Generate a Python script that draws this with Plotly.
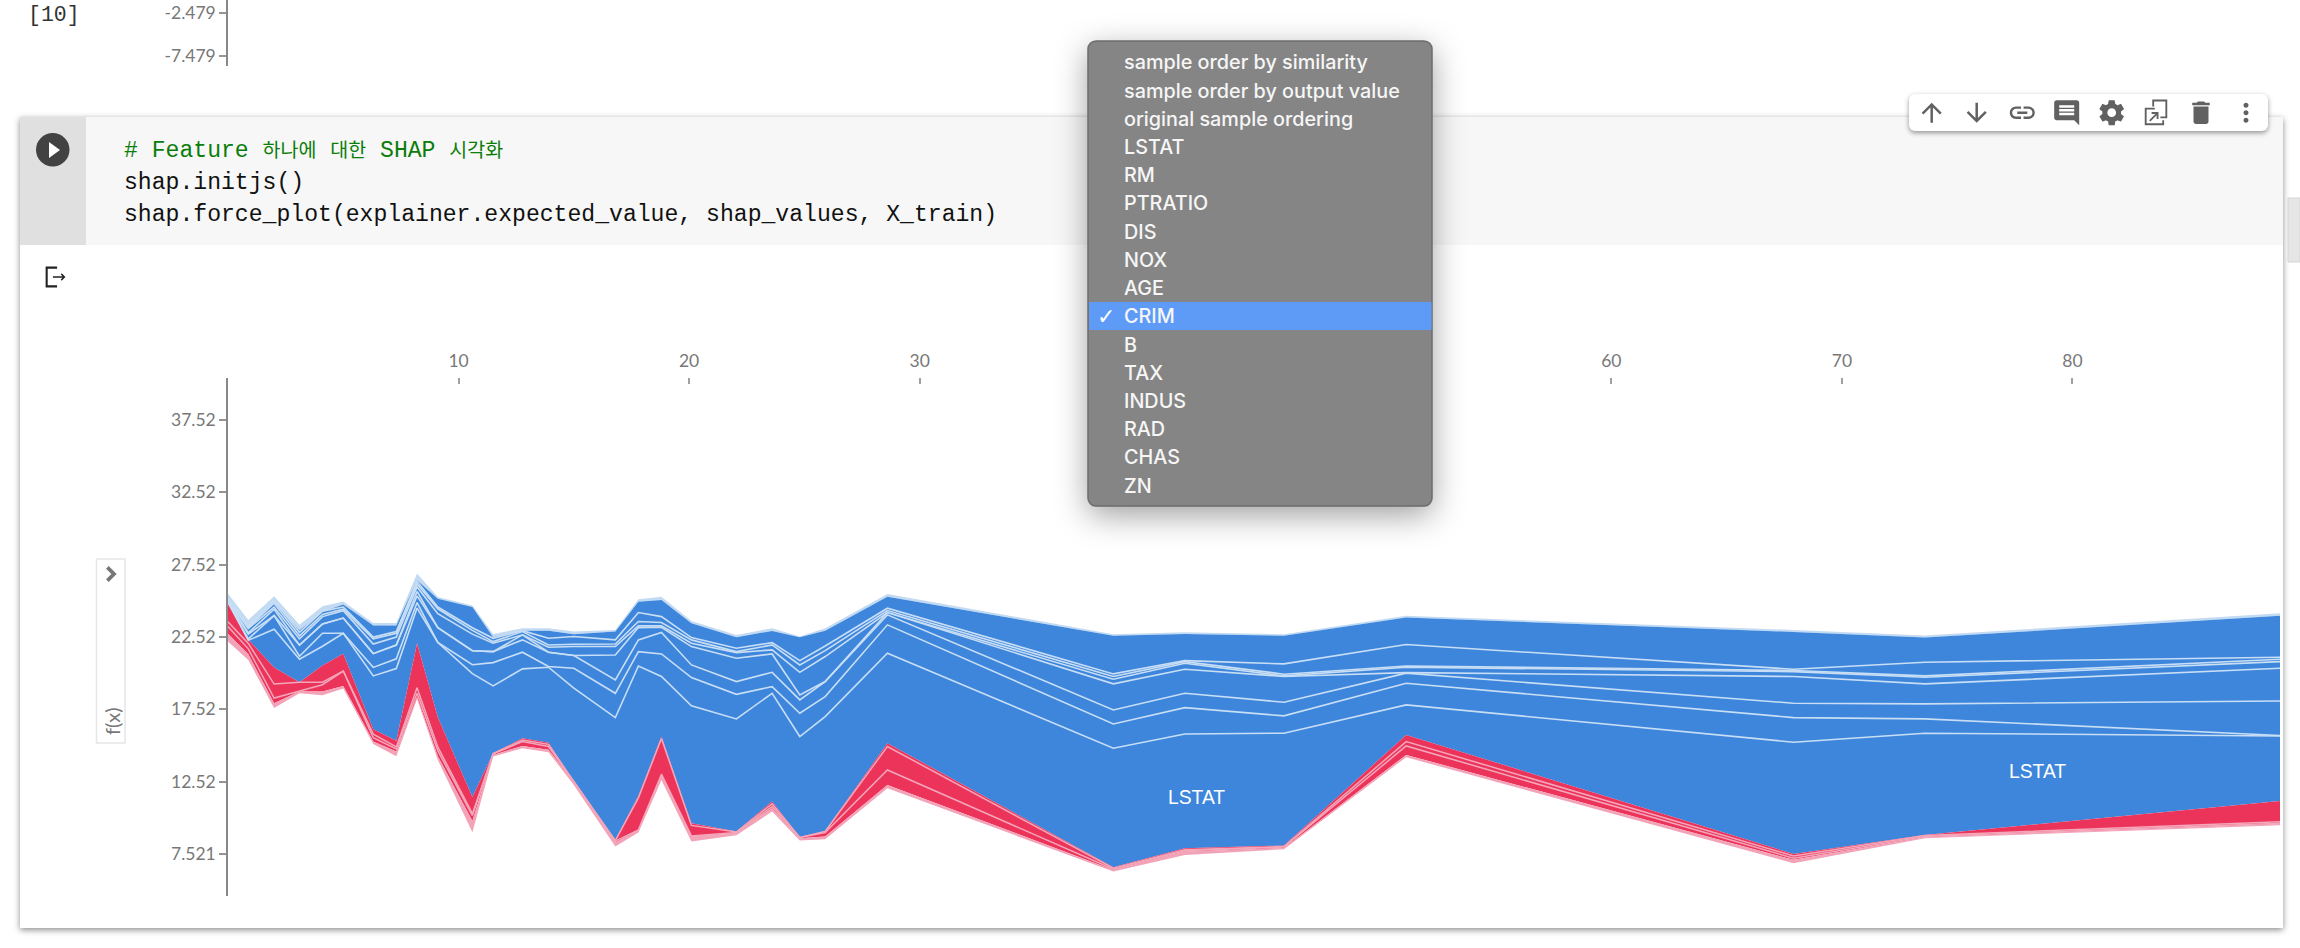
import base64
import plotly.graph_objects as go

W, H = 2300, 948

# sample positions along the top axis
sample_x = [0, 0.88, 2, 3.1, 4.1, 5, 6.3, 7.3, 8.2, 9.1, 10.6,
            11.5, 12.77, 13.9, 15, 16.8, 17.8, 18.8, 20.1, 22.05, 23.6, 24.8, 25.9, 28.6,
            38.4, 41.5, 45.8, 51.1, 67.9, 73.6, 89]

# edges of the stack, top to bottom
fringe_top = [25.51, 23.70, 25.34, 23.36, 24.64, 24.98, 23.49, 23.49, 26.90, 25.28, 24.70,
              22.73, 23.13, 23.13, 22.90, 23.01, 25.13, 25.31, 23.63, 22.66, 23.13, 22.55, 23.13, 25.50,
              22.71, 22.85, 22.71, 23.98, 23.01, 22.62, 24.16]
blue_top = [25.16, 23.24, 24.90, 22.98, 24.26, 24.77, 23.31, 23.31, 26.44, 25.16, 24.59,
            22.50, 22.96, 22.96, 22.71, 22.90, 24.95, 25.08, 23.47, 22.50, 22.94, 22.50, 22.96, 25.31,
            22.60, 22.73, 22.60, 23.86, 22.87, 22.48, 23.98]
red_top = [25.03, 22.34, 20.42, 19.40, 20.55, 21.37, 16.15, 15.35, 22.08, 16.97, 11.46,
           14.49, 15.52, 15.22, 12.53, 8.50, 11.54, 15.64, 9.65, 9.07, 11.15, 8.68, 9.12, 15.18,
           6.61, 7.92, 8.11, 15.75, 7.53, 8.84, 11.19]
red_bottom = [22.72, 21.32, 17.94, 18.76, 18.76, 19.14, 15.30, 14.61, 18.37, 14.28, 9.80,
              14.37, 14.99, 14.72, 12.53, 8.31, 9.14, 12.99, 8.73, 8.96, 10.69, 8.61, 8.73, 12.30,
              6.42, 7.69, 7.94, 14.37, 7.12, 8.68, 9.60]
pink_bottom = [22.21, 20.93, 17.61, 18.63, 18.50, 18.96, 15.12, 14.28, 18.24, 14.02, 9.03,
               14.26, 14.83, 14.56, 12.30, 8.04, 9.00, 12.64, 8.38, 8.82, 10.46, 8.45, 8.54, 12.07,
               6.31, 7.46, 7.85, 14.21, 6.89, 8.61, 9.51]

# separators between features inside the blue part
blue_line_1 = [25.16, 23.24, 25.03, 22.85, 24.31, 24.59, 22.52, 22.90, 26.36, 24.59, 23.16,
               22.43, 22.96, 22.43, 22.55, 22.32, 24.21, 23.93, 22.48, 21.74, 22.13, 20.89, 21.90, 24.51,
               19.97, 20.89, 20.66, 22.00, 20.29, 20.78, 21.12]
blue_line_2 = [25.16, 23.16, 24.85, 22.60, 24.08, 24.44, 22.39, 22.78, 26.18, 24.47, 22.98,
               22.20, 22.90, 21.97, 22.02, 22.04, 23.59, 23.52, 22.32, 21.51, 21.97, 20.59, 21.58, 24.35,
               19.79, 20.82, 19.95, 20.52, 20.20, 19.83, 20.98]
blue_line_3 = [25.10, 23.11, 24.59, 22.39, 23.93, 24.34, 22.03, 22.52, 25.98, 24.13, 22.72,
               22.09, 22.67, 21.81, 21.86, 21.86, 23.29, 23.29, 22.09, 21.44, 21.63, 20.08, 21.17, 24.21,
               19.60, 20.71, 19.83, 20.43, 20.13, 19.74, 20.82]
blue_line_4 = [25.05, 22.80, 24.44, 21.96, 23.42, 23.83, 21.37, 21.96, 25.67, 23.16, 21.57,
               21.51, 22.67, 21.47, 21.24, 21.28, 23.17, 23.19, 21.86, 21.05, 21.35, 18.52, 19.44, 24.21,
               19.28, 20.29, 19.79, 20.06, 19.79, 19.28, 20.36]
blue_line_5 = [25.00, 22.72, 24.00, 21.96, 23.42, 23.83, 21.37, 21.96, 25.36, 23.16, 21.57,
               21.51, 22.32, 21.47, 21.24, 19.55, 22.32, 22.83, 20.59, 19.44, 20.08, 18.17, 19.44, 24.05,
               17.48, 18.63, 18.01, 20.02, 17.94, 17.90, 18.10]
blue_line_6 = [24.95, 22.39, 24.00, 21.19, 22.78, 22.78, 20.42, 21.01, 24.90, 22.14, 20.60,
               20.75, 21.47, 20.48, 20.36, 18.63, 21.51, 21.35, 19.72, 18.56, 19.09, 17.25, 18.40, 23.36,
               16.51, 17.64, 17.07, 19.32, 16.95, 16.86, 15.71]
blue_line_7 = [24.90, 22.29, 23.06, 20.98, 21.88, 22.78, 19.83, 20.34, 24.52, 22.14, 19.99,
               19.14, 20.32, 20.43, 18.98, 16.95, 20.52, 19.79, 17.76, 16.86, 18.63, 15.64, 17.02, 21.40,
               14.83, 15.82, 15.87, 17.83, 15.25, 15.87, 15.68]

# separators inside the red part
red_line_1 = [23.57, 22.08, 19.27, 19.40, 19.40, 20.17, 15.81, 14.92, 19.01, 14.92, 10.31,
              14.46, 15.40, 15.10, 12.53, 8.45, 11.40, 15.50, 9.50, 9.04, 11.00, 8.67, 9.08, 14.95,
              6.54, 7.81, 8.04, 15.29, 7.39, 8.80, 9.76]
red_line_2 = [23.24, 21.70, 18.30, 18.76, 19.22, 20.17, 15.56, 14.79, 18.63, 14.66, 10.18,
              14.44, 15.29, 14.95, 12.53, 8.41, 9.19, 13.04, 8.77, 9.00, 10.80, 8.66, 9.00, 13.33,
              6.47, 7.74, 8.00, 14.99, 7.23, 8.73, 9.65]

# 40 and 50 sit behind the open menu in the screenshot
x_ticks = [10, 20, 30, 60, 70, 80]
y_ticks = [7.521, 12.52, 17.52, 22.52, 27.52, 32.52, 37.52]
y_tick_labels = ["7.521", "12.52", "17.52", "22.52", "27.52", "32.52", "37.52"]
prev_ticks = [-2.479, -7.479]
prev_tick_labels = ["-2.479", "-7.479"]

menu_items = ["sample order by similarity", "sample order by output value", "original sample ordering",
              "LSTAT", "RM", "PTRATIO", "DIS", "NOX", "AGE", "CRIM", "B", "TAX", "INDUS", "RAD", "CHAS", "ZN"]
selected_item = "CRIM"

ko = '<span style="font-size:19.5px">{}</span>'
code_lines = [("# Feature " + ko.format("하나에") + " " + ko.format("대한") + " SHAP " + ko.format("시각화"), "#0a7d0a"),
              ("shap.initjs()", "#111111"),
              ("shap.force_plot(explainer.expected_value, shap_values, X_train)", "#111111")]

# material icon paths for the cell toolbar
toolbar_icons = [
    "M4 12l1.41 1.41L11 7.83V20h2V7.83l5.58 5.59L20 12l-8-8-8 8z",
    "M20 12l-1.41-1.41L13 16.17V4h-2v12.17l-5.58-5.59L4 12l8 8 8-8z",
    "M3.9 12c0-1.71 1.39-3.1 3.1-3.1h4V7H7c-2.76 0-5 2.24-5 5s2.24 5 5 5h4v-1.9H7c-1.71 0-3.1-1.39-3.1-3.1zM8 13h8v-2H8v2zm9-6h-4v1.9h4c1.71 0 3.1 1.39 3.1 3.1s-1.39 3.1-3.1 3.1h-4V17h4c2.76 0 5-2.24 5-5s-2.24-5-5-5z",
    "M21.99 4c0-1.1-.89-2-1.99-2H4c-1.1 0-2 .9-2 2v12c0 1.1.9 2 2 2h14l4 4-.01-18zM18 14H6v-2h12v2zm0-3H6V9h12v2zm0-3H6V6h12v2z",
    "M19.43 12.98c.04-.32.07-.64.07-.98s-.03-.66-.07-.98l2.11-1.65c.19-.15.24-.42.12-.64l-2-3.46c-.12-.22-.39-.3-.61-.22l-2.49 1c-.52-.4-1.08-.73-1.69-.98l-.38-2.65C14.46 2.18 14.25 2 14 2h-4c-.25 0-.46.18-.49.42l-.38 2.65c-.61.25-1.17.59-1.69.98l-2.49-1c-.23-.09-.49 0-.61.22l-2 3.46c-.13.22-.07.49.12.64l2.11 1.65c-.04.32-.07.65-.07.98s.03.66.07.98l-2.11 1.65c-.19.15-.24.42-.12.64l2 3.46c.12.22.39.3.61.22l2.49-1c.52.4 1.08.73 1.69.98l.38 2.65c.03.24.24.42.49.42h4c.25 0 .46-.18.49-.42l.38-2.65c.61-.25 1.17-.59 1.69-.98l2.49 1c.23.09.49 0 .61-.22l2-3.46c.12-.22.07-.49-.12-.64l-2.11-1.65zM12 15.5c-1.93 0-3.5-1.57-3.5-3.5s1.57-3.5 3.5-3.5 3.5 1.57 3.5 3.5-1.57 3.5-3.5 3.5z",
    "M9 1.5h12v15h-5.5V15H19.5V3H10.5V7H9zM3 8h8v1.5H4.5v11H17V18h1.5v4H3zM6.5 18l5-5H8.5v-1.5H14V17h-1.5v-3l-5 5z",
    "M6 19c0 1.1.9 2 2 2h8c1.1 0 2-.9 2-2V7H6v12zM19 4h-3.5l-1-1h-5l-1 1H5v2h14V4z",
    "M12 8c1.1 0 2-.9 2-2s-.9-2-2-2-2 .9-2 2 .9 2 2 2zm0 2c-1.1 0-2 .9-2 2s.9 2 2 2 2-.9 2-2-.9-2-2-2zm0 6c-1.1 0-2 .9-2 2s.9 2 2 2 2-.9 2-2-.9-2-2-2z",
]
toolbar_centers = [1931.7, 1976.7, 2022.3, 2066.7, 2111.7, 2156, 2201, 2246]


def fx(x):
    return x / W


def fy(y):
    return 1 - y / H


def svg_uri(body, w, h):
    svg = f'<svg xmlns="http://www.w3.org/2000/svg" width="{w}" height="{h}" viewBox="0 0 {w} {h}">{body}</svg>'
    return "data:image/svg+xml;base64," + base64.b64encode(svg.encode()).decode()


def icon(path, cx, cy, size, color="#616161"):
    return dict(source=svg_uri(path.replace("FILL", color), 24, 24).replace("", ""),
                xref="paper", yref="paper", x=fx(cx), y=fy(cy), sizex=size / W, sizey=size / H,
                xanchor="center", yanchor="middle", layer="above", sizing="contain")


def shadow_box(x0, y0, x1, y1, r, blur, dy, alpha, fill, layer, stroke=None):
    pad = int(blur * 4 + abs(dy))
    w, h = x1 - x0 + 2 * pad, y1 - y0 + 2 * pad
    edge_attr = f'stroke="{stroke}" stroke-width="1.5"' if stroke else ""
    body = (f'<defs><filter id="b" x="-50%" y="-50%" width="200%" height="200%"><feGaussianBlur stdDeviation="{blur}"/></filter></defs>'
            f'<rect x="{pad}" y="{pad + dy}" width="{x1 - x0}" height="{y1 - y0}" rx="{r}" fill="#000" fill-opacity="{alpha}" filter="url(#b)"/>'
            f'<rect x="{pad}" y="{pad}" width="{x1 - x0}" height="{y1 - y0}" rx="{r}" fill="{fill}" {edge_attr}/>')
    return dict(source=svg_uri(body, w, h), xref="paper", yref="paper", x=fx(x0 - pad), y=fy(y0 - pad),
                sizex=w / W, sizey=h / H, xanchor="left", yanchor="top", layer=layer, sizing="stretch")


def rect(x0, y0, x1, y1, fill, line=None, layer="below", width=1):
    return dict(type="rect", xref="paper", yref="paper", x0=fx(x0), y0=fy(y0), x1=fx(x1), y1=fy(y1),
                fillcolor=fill, line=dict(color=line or fill, width=width if line else 0), layer=layer)


def text(x, y, s, size, color, family, xanchor="left", angle=0, weight=None):
    font = dict(size=size, color=color, family=family)
    if weight:
        font["weight"] = weight
    return dict(xref="paper", yref="paper", x=fx(x), y=fy(y), text=s, showarrow=False, xanchor=xanchor,
                yanchor="middle", textangle=angle, font=font)


fig = go.Figure()


def edge(y, fill=None):
    fig.add_trace(go.Scatter(x=sample_x, y=y, mode="lines", line=dict(width=0),
                             fill="tonexty" if fill else None, fillcolor=fill, hoverinfo="skip"))


edge(fringe_top)
edge(blue_top, "#c3daf3")
edge(red_top, "#3d86dc")
edge(red_bottom, "#ec345b")
edge(pink_bottom, "#f3a3b8")

for y in [blue_line_1, blue_line_2, blue_line_3, blue_line_4, blue_line_5, blue_line_6, blue_line_7]:
    fig.add_trace(go.Scatter(x=sample_x, y=y, mode="lines", line=dict(color="#c8def5", width=1.6), hoverinfo="skip"))
for y in [red_line_1, red_line_2]:
    fig.add_trace(go.Scatter(x=sample_x, y=y, mode="lines", line=dict(color="#f4a6ba", width=1.5), hoverinfo="skip"))

# the axis left over from the previous cell needs a trace to get drawn
fig.add_trace(go.Scatter(x=[0, 0], y=prev_ticks, mode="none", xaxis="x2", yaxis="y2", hoverinfo="skip"))

axis_font = dict(family="Lato", size=17.5, color="#787878")
mono = '"Liberation Mono","Noto Sans CJK KR",monospace'
ui = '"Inter","Roboto",sans-serif'

images = [shadow_box(20, 117, 2283, 928, 0, 3, 2, 0.45, "#ffffff", "below"),
          shadow_box(1909, 94, 2268, 131, 6, 2.5, 2, 0.4, "#ffffff", "above")]
for path, cx in zip(toolbar_icons, toolbar_centers):
    images.append(icon(f'<path fill="FILL" d="{path}"/>', cx, 112.7, 30))
images.append(icon('<path d="M14 3H4v18h10" fill="none" stroke="FILL" stroke-width="2"/>'
                   '<path d="M10 12h11M18 9l3 3-3 3" fill="none" stroke="FILL" stroke-width="1.4"/>',
                   55, 277, 25, "#222222"))
images.append(icon('<path fill="FILL" stroke="FILL" stroke-width="1.2" d="M8.6 16.6 13.2 12 8.6 7.4 10 6l6 6-6 6z"/>',
                   111, 574, 28, "#777777"))
images.append(shadow_box(1088, 41, 1432, 506, 8, 16, 9, 0.38, "#858585", "above", "#6c6c6c"))

shapes = [
    rect(20, 117, 86, 245, "#e0e0e0"),
    rect(86, 117, 2283, 245, "#f7f7f7"),
    dict(type="circle", xref="paper", yref="paper", x0=fx(36), x1=fx(69.5), y0=fy(133), y1=fy(166.5),
         fillcolor="#424242", line=dict(width=0), layer="below"),
    dict(type="path", xref="paper", yref="paper",
         path=f"M {fx(49)} {fy(142)} L {fx(60)} {fy(150)} L {fx(49)} {fy(158)} Z",
         fillcolor="#ffffff", line=dict(width=0), layer="below"),
    rect(96.5, 559, 125, 743, "#ffffff", "#e6e6e6", "below", 1.5),
    rect(2288, 198, 2300, 262, "#e6e6e6", "#d4d4d4", "below"),
    rect(1089, 302, 1431.5, 330, "#5e9bf7", None, "above"),
]

annotations = [text(26, 15, "[10]", 21.5, "#333333", mono),
               text(112, 721, "f(x)", 20, "#777777", "Lato", "center", -90),
               text(1196, 797.5, "LSTAT", 19.3, "#ffffff", "Liberation Sans", "center"),
               text(2037.5, 771.7, "LSTAT", 19.3, "#ffffff", "Liberation Sans", "center")]
for (line, color), y in zip(code_lines, [151, 183, 215]):
    annotations.append(text(122, y, line, 23.1, color, mono))
for i, item in enumerate(menu_items):
    annotations.append(text(1122, 62.3 + i * 28.22, item, 19.8, "#f6f6f6", ui, weight=500))
    if item == selected_item:
        annotations.append(text(1105.5, 62.3 + i * 28.22, "✓", 22, "#ffffff", '"DejaVu Sans"', "center"))

fig.update_layout(
    width=W, height=H, autosize=False,
    margin=dict(l=0, r=0, t=0, b=0),
    paper_bgcolor="#ffffff", plot_bgcolor="rgba(0,0,0,0)",
    showlegend=False, hovermode=False,
    xaxis=dict(domain=[fx(228), fx(2280)], range=[0, 89], side="top", anchor="y",
               tickmode="array", tickvals=x_ticks, ticks="inside", ticklen=6, tickwidth=1.5, tickcolor="#a0a0a0",
               showline=False, showgrid=False, zeroline=False, tickfont=axis_font, ticklabelstandoff=7),
    yaxis=dict(domain=[fy(896), fy(378)], range=[4.62, 40.42], anchor="x",
               tickmode="array", tickvals=y_ticks, ticktext=y_tick_labels, ticks="outside", ticklen=7,
               tickwidth=1.5, tickcolor="#959595", showline=True, linecolor="#888888", linewidth=1.5,
               showgrid=False, zeroline=False, tickfont=axis_font),
    xaxis2=dict(domain=[fx(228), fx(2280)], range=[0, 1], anchor="y2", visible=False),
    yaxis2=dict(domain=[fy(66), 1], range=[-8.69, -0.926], anchor="x2",
                tickmode="array", tickvals=prev_ticks, ticktext=prev_tick_labels, ticks="outside", ticklen=7,
                tickwidth=1.5, tickcolor="#959595", showline=True, linecolor="#888888", linewidth=1.5,
                showgrid=False, zeroline=False, tickfont=axis_font),
    shapes=shapes, images=images, annotations=annotations,
)

fig.write_html("out.html", config=dict(displayModeBar=False),
               post_script="document.body.style.margin='0';document.body.style.overflow='hidden';")
